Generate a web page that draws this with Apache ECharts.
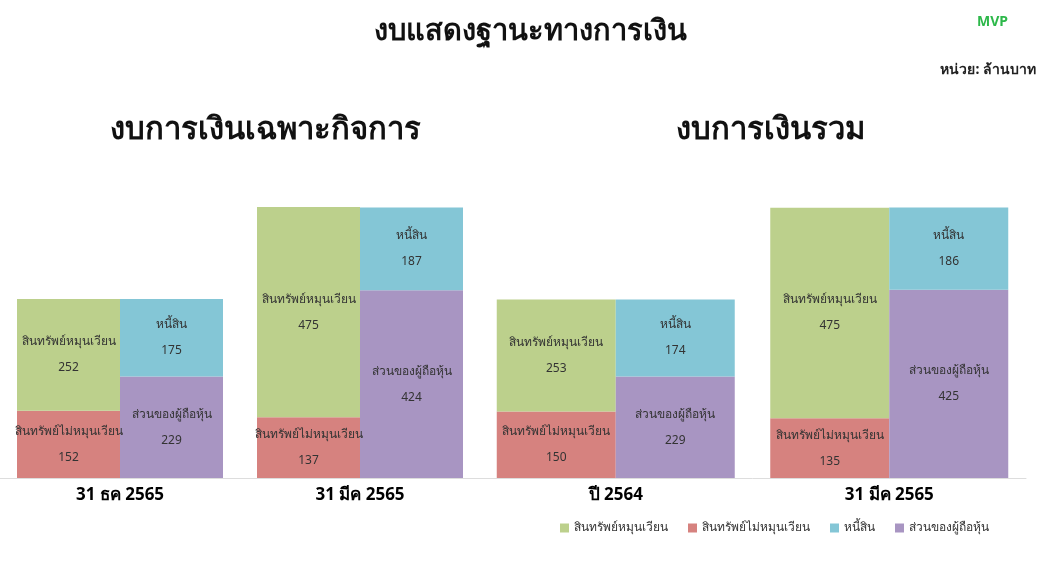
<!DOCTYPE html><html><head><meta charset="utf-8">
<script src="https://cdn.jsdelivr.net/npm/echarts@6/dist/echarts.min.js"></script>
<style>html,body{margin:0;padding:0;background:#fff}#c{width:1061px;height:567px}</style></head><body><div id="c"></div>
<script>
const catsSep = ['31 ธค 2565', '31 มีค 2565'];
const catsCon = ['ปี 2564', '31 มีค 2565'];
const names = ['สินทรัพย์หมุนเวียน', 'สินทรัพย์ไม่หมุนเวียน', 'หนี้สิน', 'ส่วนของผู้ถือหุ้น'];
const sepCurrent = [252, 475], sepNonCurrent = [152, 137], sepLiab = [175, 187], sepEquity = [229, 424];
const conCurrent = [253, 475], conNonCurrent = [150, 135], conLiab = [174, 186], conEquity = [229, 425];
const colors = ['#bcd08c', '#d6827f', '#84c6d6', '#a895c2'];
const font = '"Noto Sans", sans-serif';
function mk(idx, name, stack, data, color) {
  return { type: 'bar', name, stack, data, xAxisIndex: idx, yAxisIndex: idx,
    itemStyle: { color }, barGap: '0%', barWidth: idx === 0 ? 103 : 119,
    label: { show: true, position: 'inside', formatter: '{a}\n{c}', color: '#333', fontSize: 12, lineHeight: 26, fontFamily: font } };
}
const series = [];
[[sepCurrent, sepNonCurrent, sepLiab, sepEquity], [conCurrent, conNonCurrent, conLiab, conEquity]].forEach((d, i) => {
  series.push(mk(i, names[1], 'a' + i, d[1], colors[1]));
  series.push(mk(i, names[0], 'a' + i, d[0], colors[0]));
  series.push(mk(i, names[3], 'l' + i, d[3], colors[3]));
  series.push(mk(i, names[2], 'l' + i, d[2], colors[2]));
});
const axisX = (cats) => ({ type: 'category', data: cats, axisTick: { show: false },
  axisLine: { lineStyle: { color: '#ddd' } },
  axisLabel: { color: '#000', fontWeight: 'bold', fontSize: 17, fontFamily: font, margin: 9 } });
const axisY = { type: 'value', min: 0, max: 700, show: false };
const chart = echarts.init(document.getElementById('c'));
chart.setOption({
  animation: false,
  title: [
    { text: 'งบแสดงฐานะทางการเงิน', left: 'center', top: 12, textStyle: { fontSize: 29, fontWeight: 'bold', color: '#111', fontFamily: font } },
    { text: 'MVP', left: 972, top: 10, textStyle: { fontSize: 14, fontWeight: 'bold', color: '#2db84a', fontFamily: font } },
    { text: 'หน่วย: ล้านบาท', right: 20, top: 58, textStyle: { fontSize: 14, fontWeight: 'bold', color: '#222', fontFamily: font } },
    { text: 'งบการเงินเฉพาะกิจการ', left: 260, textAlign: 'center', top: 110, textStyle: { fontSize: 31, fontWeight: 'bold', color: '#111', fontFamily: font } },
    { text: 'งบการเงินรวม', left: 765, textAlign: 'center', top: 110, textStyle: { fontSize: 31, fontWeight: 'bold', color: '#111', fontFamily: font } }
  ],
  legend: { data: names, left: 555, top: 517, itemWidth: 9, itemHeight: 9, icon: 'rect', itemGap: 20,
    textStyle: { fontSize: 12, color: '#333', fontFamily: font } },
  grid: [
    { left: 0, width: 480, top: 168, bottom: 89 },
    { left: 479, width: 547, top: 168, bottom: 89 }
  ],
  xAxis: [Object.assign(axisX(catsSep), { gridIndex: 0 }), Object.assign(axisX(catsCon), { gridIndex: 1 })],
  yAxis: [Object.assign({ gridIndex: 0 }, axisY), Object.assign({ gridIndex: 1 }, axisY)],
  series
});
</script></body></html>
